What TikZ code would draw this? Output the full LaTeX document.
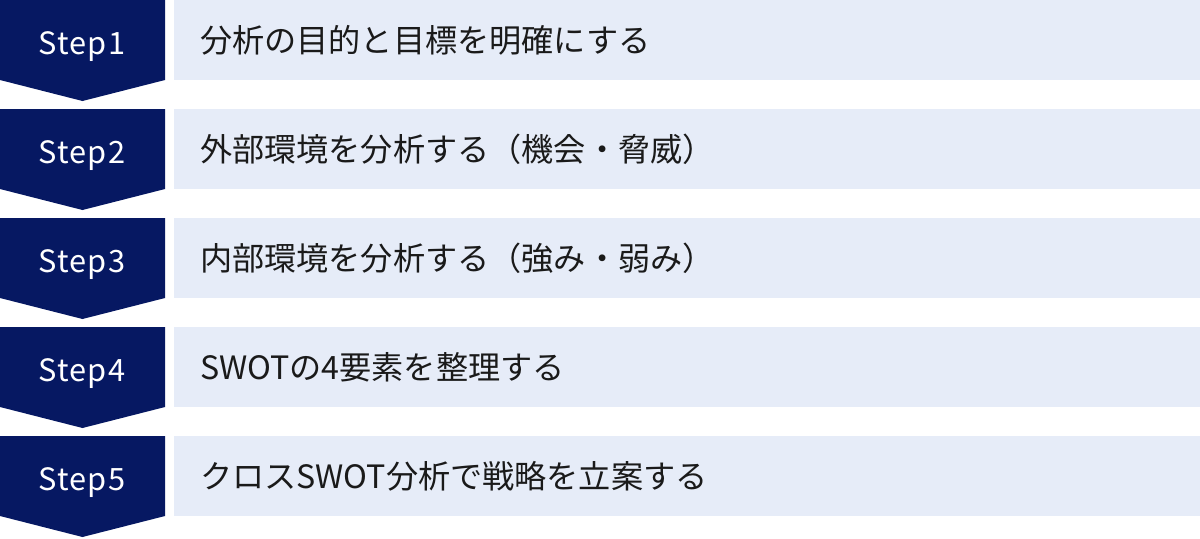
\documentclass[tikz,border=0pt]{standalone}
\usepackage{fontspec}
\newfontfamily\jpfont{Noto Sans CJK JP}
\newfontfamily\stepfont{Noto Sans CJK JP}[LetterSpace=4]
\definecolor{stepnavy}{HTML}{061862}
\definecolor{rowblue}{HTML}{E6ECF8}
\definecolor{rowtext}{HTML}{1A1A1A}
\tikzset{
	steplabel/.style={anchor=base, text=white, inner sep=0pt, font=\stepfont\fontsize{17.5}{20}\selectfont},
	rowlabel/.style={anchor=west, text=rowtext, font=\jpfont\fontsize{18.3}{20}\selectfont},
}
\begin{document}
\begin{tikzpicture}[x=0.02cm, y=-0.02cm]
		\useasboundingbox (0,0) rectangle (1200,538);

		% step 1
		\fill[stepnavy] (0,0) -- (165,0) -- (165,80) -- (82.5,101) -- (0,80) -- cycle;
		\fill[rowblue] (174,0) rectangle (1200,80);
		\node [steplabel] (s1) at (82,54) {Step1};
		\node [rowlabel] (t1) at (194,40) {分析の目的と目標を明確にする};

		% step 2
		\fill[stepnavy] (0,109) -- (165,109) -- (165,189) -- (82.5,210) -- (0,189) -- cycle;
		\fill[rowblue] (174,109) rectangle (1200,189);
		\node [steplabel] (s2) at (82,163) {Step2};
		\node [rowlabel] (t2) at (194,149) {外部環境を分析する（機会・脅威）};

		% step 3
		\fill[stepnavy] (0,218) -- (165,218) -- (165,298) -- (82.5,319) -- (0,298) -- cycle;
		\fill[rowblue] (174,218) rectangle (1200,298);
		\node [steplabel] (s3) at (82,272) {Step3};
		\node [rowlabel] (t3) at (194,258) {内部環境を分析する（強み・弱み）};

		% step 4
		\fill[stepnavy] (0,327) -- (165,327) -- (165,407) -- (82.5,428) -- (0,407) -- cycle;
		\fill[rowblue] (174,327) rectangle (1200,407);
		\node [steplabel] (s4) at (82,381) {Step4};
		\node [rowlabel] (t4) at (194,367) {SWOTの4要素を整理する};

		% step 5
		\fill[stepnavy] (0,436) -- (165,436) -- (165,516) -- (82.5,537) -- (0,516) -- cycle;
		\fill[rowblue] (174,436) rectangle (1200,516);
		\node [steplabel] (s5) at (82,490) {Step5};
		\node [rowlabel] (t5) at (194,476) {クロスSWOT分析で戦略を立案する};
\end{tikzpicture}
\end{document}
